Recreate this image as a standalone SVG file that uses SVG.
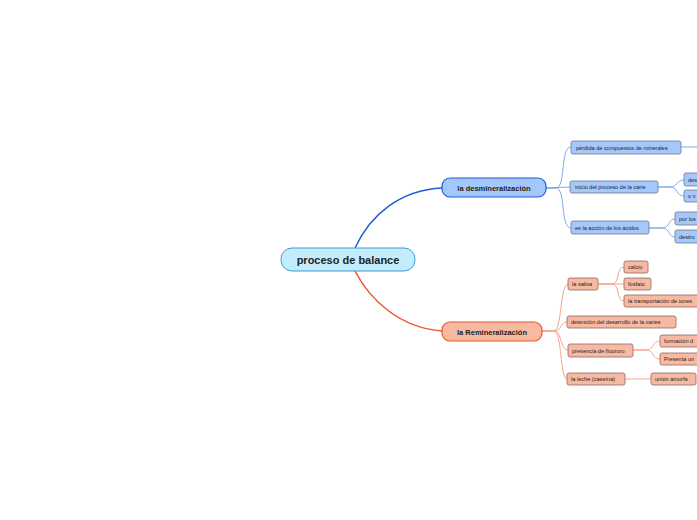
<svg xmlns="http://www.w3.org/2000/svg" width="697" height="520" viewBox="0 0 697 520">
<style>
text{font-family:"Liberation Sans",Arial,sans-serif;fill:#222}
.s{font-size:5.6px}
.b rect{fill:#a4c8fb;stroke:#6a7a90;stroke-width:0.8}
.r rect{fill:#f8b9a3;stroke:#8a6a60;stroke-width:0.8}
.cb path{fill:none;stroke:#7ea9ee;stroke-width:1}
.cr path{fill:none;stroke:#f7a58a;stroke-width:1}
</style>
<rect width="697" height="520" fill="#fff"/>
<g id="connectors">
<path d="M355,248 C370,215 400,190 442,188" fill="none" stroke="#1f5ed6" stroke-width="1.5"/>
<path d="M355,271 C370,300 400,328 442,331" fill="none" stroke="#e8562a" stroke-width="1.5"/>
<g class="cb">
<path d="M546,188 L556,188 C566,188 560,147 571,147"/>
<path d="M546,188 L570,187"/>
<path d="M546,188 L556,188 C566,188 560,228 571,228"/>
<path d="M681,147 L697,147"/>
<path d="M658,187 L670,187 C678,187 676,180 684,180"/>
<path d="M658,187 L670,187 C678,187 676,196 684,196"/>
<path d="M649,228 L662,228 C670,228 668,219 675,219"/>
<path d="M649,228 L662,228 C670,228 668,237 675,237"/>
</g>
<g class="cr">
<path d="M542,331 L554,331 C562,331 560,284 568,284"/>
<path d="M542,331 L554,331 C562,331 560,322 567,322"/>
<path d="M542,331 L554,331 C562,331 560,350 568,350"/>
<path d="M542,331 L554,331 C562,331 560,379 567,379"/>
<path d="M598,284 L612,284 C620,284 616,267 624,267"/>
<path d="M598,284 L624,284"/>
<path d="M598,284 L612,284 C620,284 616,301 624,301"/>
<path d="M633,350 L646,350 C654,350 652,341 660,341"/>
<path d="M633,350 L646,350 C654,350 652,359 660,359"/>
<path d="M625,379 L651,379"/>
</g>
</g>
<g id="center"><rect x="281" y="248" width="134" height="23" rx="11" fill="#c3ecfd" stroke="#3f9cd8"/><text x="348" y="263.5" font-size="11" font-weight="bold" text-anchor="middle">proceso de balance</text></g>
<g id="desmin"><rect x="442" y="178" width="104" height="19" rx="8" fill="#a4c8fb" stroke="#1f5ed6" stroke-width="1.2"/><text x="494" y="191" font-size="7.5" font-weight="bold" text-anchor="middle">la desmineralización</text></g>
<g id="remin"><rect x="442" y="322" width="100" height="19" rx="8" fill="#f8b9a3" stroke="#e8562a" stroke-width="1.2"/><text x="492" y="335" font-size="7.5" font-weight="bold" text-anchor="middle">la Remineralización</text></g>
<g id="b1" class="b"><rect x="571" y="141" width="110" height="13" rx="2"/><text class="s" x="576" y="149.5">pérdida de compuestos de minerales</text></g>
<g id="b2" class="b"><rect x="570" y="181" width="88" height="12" rx="2"/><text class="s" x="575" y="189">inicio del proceso de la carie</text></g>
<g id="b3" class="b"><rect x="571" y="221" width="78" height="13" rx="2"/><text class="s" x="575" y="229.5">es la acción de los ácidos</text></g>
<g id="b4" class="b"><rect x="684" y="173" width="30" height="13" rx="2"/><text class="s" x="688" y="181.5">des</text></g>
<g id="b5" class="b"><rect x="684" y="190" width="30" height="12" rx="2"/><text class="s" x="688" y="198">o v</text></g>
<g id="b6" class="b"><rect x="675" y="212" width="40" height="13" rx="2"/><text class="s" x="679" y="220.5">por los</text></g>
<g id="b7" class="b"><rect x="675" y="230" width="40" height="13" rx="2"/><text class="s" x="679" y="238.5">destru</text></g>
<g id="r1" class="r"><rect x="568" y="278" width="30" height="12" rx="2"/><text class="s" x="572" y="286">la saliva</text></g>
<g id="r2" class="r"><rect x="624" y="261" width="24" height="12" rx="2"/><text class="s" x="628" y="269">calcio</text></g>
<g id="r3" class="r"><rect x="624" y="278" width="27" height="12" rx="2"/><text class="s" x="628" y="286">fosfato</text></g>
<g id="r4" class="r"><rect x="624" y="295" width="85" height="12" rx="2"/><text class="s" x="628" y="303">la transportación de iones</text></g>
<g id="r5" class="r"><rect x="567" y="316" width="109" height="12" rx="2"/><text class="s" x="571" y="324">detención del desarrollo de la caries</text></g>
<g id="r6" class="r"><rect x="568" y="344" width="65" height="13" rx="2"/><text class="s" x="572" y="352.5">presencia de fluoruro</text></g>
<g id="r7" class="r"><rect x="660" y="335" width="50" height="12" rx="2"/><text class="s" x="664" y="343">formación d</text></g>
<g id="r8" class="r"><rect x="660" y="353" width="50" height="12" rx="2"/><text class="s" x="664" y="361">Presenta un</text></g>
<g id="r9" class="r"><rect x="567" y="373" width="58" height="12" rx="2"/><text class="s" x="571" y="381">la leche (caseína)</text></g>
<g id="r10" class="r"><rect x="651" y="373" width="45" height="12" rx="2"/><text class="s" x="655" y="381">unión amorfa</text></g>
</svg>
